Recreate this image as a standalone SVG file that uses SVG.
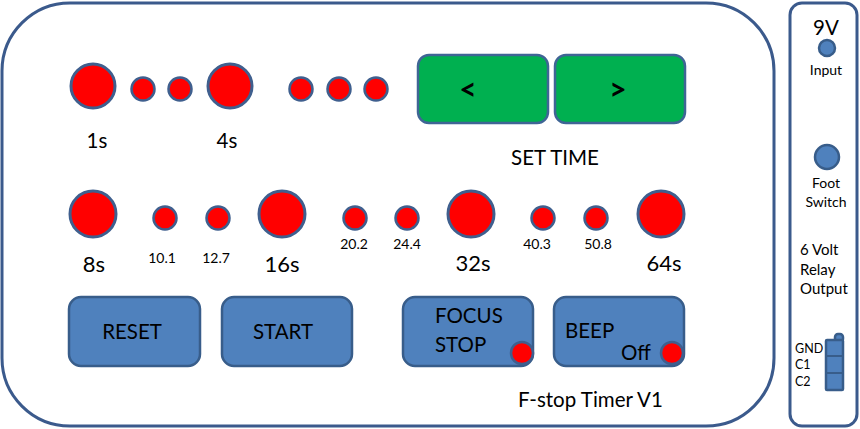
<svg xmlns="http://www.w3.org/2000/svg" width="860" height="429" viewBox="0 0 860 429">
<style>
text{font-family:Lato,"Open Sans","Liberation Sans",sans-serif;fill:#000}
.frame{fill:#fff;stroke:#3b5a8c;stroke-width:3}
.led{fill:#ff0000;stroke:#3f5f8e;stroke-width:3}
.sled{fill:#ff0000;stroke:#3f5f8e;stroke-width:2.5}
.green{fill:#00b050;stroke:#3f6595;stroke-width:2.5}
.blue{fill:#4f81bd;stroke:#385d8a;stroke-width:2.5}
.big{font-size:20.5px}
.small{font-size:14px}
.mid{text-anchor:middle}
.chev{font-size:30px;font-weight:bold}
</style>
<g id="frame-main"><rect class="frame" x="2" y="3" width="772" height="423" rx="68" ry="68"/></g>
<g id="frame-side"><rect class="frame" x="790" y="3" width="67" height="423" rx="12" ry="12"/></g>

<g id="row1">
<g id="led-1s"><circle class="led" cx="93" cy="86" r="22"/><text class="big mid" x="97" y="148">1s</text></g>
<g id="led-a"><circle class="sled" cx="143" cy="89" r="11.5"/></g>
<g id="led-b"><circle class="sled" cx="180" cy="89" r="11.5"/></g>
<g id="led-4s"><circle class="led" cx="230" cy="86" r="22"/><text class="big mid" x="227" y="148">4s</text></g>
<g id="led-c"><circle class="sled" cx="301" cy="89" r="11.5"/></g>
<g id="led-d"><circle class="sled" cx="339" cy="89" r="11.5"/></g>
<g id="led-e"><circle class="sled" cx="376" cy="89" r="11.5"/></g>
</g>

<g id="btn-left"><rect class="green" x="418" y="55" width="130" height="68" rx="11"/><text class="mid chev" x="468" y="100">&lt;</text></g>
<g id="btn-right"><rect class="green" x="555" y="55" width="130" height="68" rx="11"/><text class="mid chev" x="618" y="100">&gt;</text></g>
<g id="set-time"><text class="big mid" x="555" y="165">SET TIME</text></g>

<g id="row2">
<g id="led-8s"><circle class="led" cx="93" cy="214" r="23"/><text class="mid" font-size="22" x="94" y="272">8s</text></g>
<g id="led-10"><circle class="sled" cx="165" cy="218" r="11.5"/><text class="small mid" x="162" y="263">10.1</text></g>
<g id="led-12"><circle class="sled" cx="218" cy="218" r="11.5"/><text class="small mid" x="216" y="263">12.7</text></g>
<g id="led-16s"><circle class="led" cx="282" cy="214" r="23"/><text class="mid" font-size="22" x="282" y="272">16s</text></g>
<g id="led-20"><circle class="sled" cx="355" cy="218" r="11.5"/><text class="small mid" x="354" y="249">20.2</text></g>
<g id="led-24"><circle class="sled" cx="407" cy="218" r="11.5"/><text class="small mid" x="407" y="249">24.4</text></g>
<g id="led-32s"><circle class="led" cx="471" cy="214" r="23"/><text class="mid" font-size="22" x="473" y="271">32s</text></g>
<g id="led-40"><circle class="sled" cx="543" cy="218" r="11.5"/><text class="small mid" x="537" y="249">40.3</text></g>
<g id="led-50"><circle class="sled" cx="596" cy="218" r="11.5"/><text class="small mid" x="598" y="249">50.8</text></g>
<g id="led-64s"><circle class="led" cx="661" cy="214" r="23"/><text class="mid" font-size="22" x="664" y="271">64s</text></g>
</g>

<g id="btn-reset"><rect class="blue" x="69" y="297" width="131" height="69" rx="12"/><text class="big mid" x="132" y="339">RESET</text></g>
<g id="btn-start"><rect class="blue" x="222" y="297" width="130" height="69" rx="12"/><text class="big mid" x="283" y="339">START</text></g>
<g id="btn-focus"><rect class="blue" x="403" y="297" width="130" height="69" rx="12"/><text class="big" x="435" y="323">FOCUS</text><text class="big" x="435" y="352">STOP</text><circle class="sled" cx="522" cy="353" r="11"/></g>
<g id="btn-beep"><rect class="blue" x="554" y="297" width="130" height="69" rx="12"/><text class="big" x="565" y="338">BEEP</text><text class="big" x="621" y="360">Off</text><circle class="sled" cx="672" cy="353" r="11"/></g>
<g id="title"><text class="big" x="518" y="407">F-stop Timer V1</text></g>

<g id="input-9v"><text class="big mid" x="826" y="35">9V</text><circle class="blue" cx="827" cy="48" r="8" stroke-width="2"/><text class="small mid" x="826" y="75">Input</text></g>
<g id="foot-switch"><circle class="blue" cx="827" cy="157" r="12" stroke-width="2"/><text class="small mid" x="826" y="188">Foot</text><text class="small mid" x="826" y="207">Switch</text></g>
<g id="relay"><text font-size="15" x="800" y="255">6 Volt</text><text font-size="15" x="800" y="275">Relay</text><text font-size="15" x="800" y="294">Output</text></g>
<g id="connector">
<rect class="blue" x="835" y="334" width="8" height="8" rx="3" stroke-width="1.5"/>
<rect class="blue" x="826" y="340" width="17" height="50" rx="1" stroke-width="1.5"/>
<line x1="826" y1="356" x2="843" y2="356" stroke="#385d8a" stroke-width="2"/>
<line x1="826" y1="373" x2="843" y2="373" stroke="#385d8a" stroke-width="2"/>
<text font-size="12.5" x="795" y="353">GND</text>
<text font-size="12.5" x="795" y="369">C1</text>
<text font-size="12.5" x="795" y="386">C2</text>
</g>
</svg>
